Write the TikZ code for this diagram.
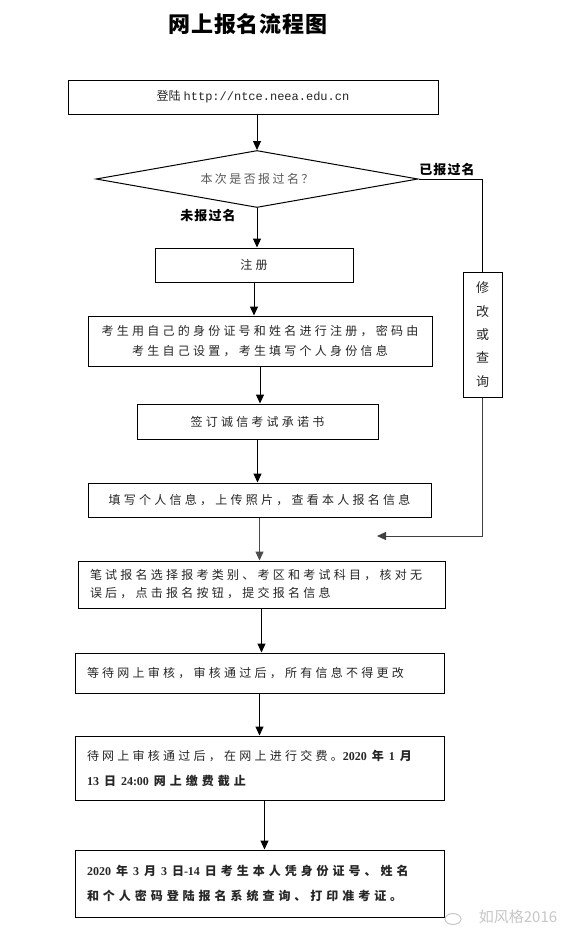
\documentclass[tikz,border=0pt]{standalone}
\usepackage{fontspec}
\setmainfont{Liberation Serif}
\newfontfamily\cjk{Noto Sans CJK SC}[LetterSpace=27]
\newfontfamily\cjkb{Noto Sans CJK SC}[LetterSpace=33]
\newfontfamily\cjkd{Noto Sans CJK SC}[LetterSpace=20]
\newfontfamily\cjkl{Noto Sans CJK SC}[LetterSpace=8]
\newfontfamily\cjkt{Noto Sans CJK SC}[LetterSpace=4]
\newfontfamily\cjkn{Noto Sans CJK SC}
\newfontfamily\urlmono{Liberation Mono}
\usetikzlibrary{arrows.meta,shapes.geometric,calc}
\newcommand\zb[1]{{\cjkb\bfseries #1}}
\newcommand\nb[1]{{\rmfamily\bfseries #1}}
\newcommand\gap{\hspace{5pt}}
\begin{document}
\begin{tikzpicture}[x=1pt,y=-1pt,
  box/.style={draw, line width=1pt, inner sep=0pt, text=black!85},
  lbox/.style={box, align=left, inner xsep=12pt, text width=345pt},
  arr/.style={line width=1pt, -{Triangle[length=9pt,width=8pt]}},
  lbl/.style={font={\cjkl\bfseries\fontsize{13}{15}\selectfont}},
  body/.style={font={\cjk\fontsize{12}{14}\selectfont}}]
\fill[white] (0,0) rectangle (563,935);
\useasboundingbox (0,0) rectangle (563,935);

\node[font={\cjkt\bfseries\fontsize{22}{26}\selectfont}] (title) at (248,24) {网上报名流程图};

\node[box, minimum width=370pt, minimum height=34pt, font={\fontsize{12}{14}\selectfont}] (b1) at (253,97)
  {{\cjkn 登陆} {\urlmono http://ntce.neea.edu.cn}};

\node[diamond, draw, line width=1pt, shape aspect=5.65, minimum width=322pt, minimum height=57pt, inner sep=0pt,
  text=black!65, font={\cjkd\fontsize{12}{14}\selectfont}] (d) at (257,179) {本次是否报过名？};

\node[lbl] (yes) at (447,170) {已报过名};
\node[lbl] (no) at (208,216) {未报过名};

\node[box, minimum width=39pt, minimum height=125pt, align=center,
  font={\cjkn\fontsize{13}{23.3}\selectfont}] (q) at (482.5,334.5) {修\\改\\或\\查\\询};

\node[box, body, minimum width=198pt, minimum height=34pt] (reg) at (254,265) {注册};

\node[box, minimum width=344pt, minimum height=50pt, align=center,
  font={\cjk\fontsize{12}{20}\selectfont}] (b3) at (260,341)
  {考生用自己的身份证号和姓名进行注册，密码由\\考生自己设置，考生填写个人身份信息};

\node[box, body, minimum width=241pt, minimum height=35pt] (b4) at (257.5,421.5) {签订诚信考试承诺书};

\node[box, body, minimum width=343pt, minimum height=34pt] (b5) at (259.5,500)
  {填写个人信息，上传照片，查看本人报名信息};

\node[lbox, text width=343pt, minimum height=47pt, font={\cjk\fontsize{12}{18}\selectfont}] (b6) at (261.5,584.5)
  {笔试报名选择报考类别、考区和考试科目，核对无\\误后，点击报名按钮，提交报名信息};

\node[lbox, minimum height=40pt, font={\cjk\fontsize{12}{14}\selectfont}] (b7) at (259.5,673)
  {等待网上审核，审核通过后，所有信息不得更改};

\node[lbox, minimum height=64pt, font={\cjk\fontsize{12}{25}\selectfont}] (b8) at (259.5,768)
  {待网上审核通过后，在网上进行交费。\nb{2020}\gap\zb{年}\gap\nb{1}\gap\zb{月}\\
   \nb{13}\gap\zb{日}\gap\nb{24:00}\gap\zb{网上缴费截止}};

\node[lbox, minimum height=67pt, font={\cjk\fontsize{12}{25}\selectfont}] (b9) at (259.5,883.5)
  {\nb{2020}\gap\zb{年}\gap\nb{3}\gap\zb{月}\gap\nb{3}\gap\zb{日}\nb{-14}\gap\zb{日考生本人凭身份证号、姓名}\\
   \zb{和个人密码登陆报名系统查询、打印准考证。}};

\node[text=black!22, font={\cjkn\fontsize{15}{17}\selectfont}] (wm) at (518,917) {如风格2016};
\draw[black!22, line width=1pt] (453,919) ellipse (8pt and 5.5pt);

% connectors
\draw[arr] (b1.south -| d.north) -- (d.north);
\draw[line width=1pt] (d.east) -- (d.east -| q.north) -- (q.north);
\coordinate (ret) at (377,536);
\draw[arr, black!75] (q.south) |- (ret);
\draw[arr] (d.south) -- (d.south |- reg.north);
\draw[arr] (reg.south) -- (reg.south |- b3.north);
\draw[arr] (b3.south) -- (b3.south |- b4.north);
\draw[arr] (b4.south) -- (b4.south |- b5.north);
\draw[arr, black!70] (b5.south) -- (b5.south |- b6.north);
\draw[arr] (b6.south) -- (b6.south |- b7.north);
\draw[arr] (b7.south) -- (b7.south |- b8.north);
\draw[arr] ($(b8.south)+(5,0)$) -- ($(b8.south |- b9.north)+(5,0)$);
\end{tikzpicture}
\end{document}
